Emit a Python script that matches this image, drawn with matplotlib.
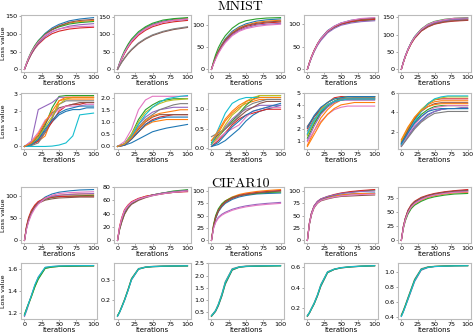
import matplotlib.pyplot as plt

# sample points along the iteration axis
iters_smooth = [0, 3, 6, 10, 15, 20, 30, 40, 50, 65, 80, 100]
iters_noisy = [0, 10, 20, 30, 40, 50, 60, 70, 80, 90, 100]

# MNIST, first row of runs
mnist_a1 = [
    [0, 16, 31, 48, 65, 80, 101, 116, 126, 136, 141, 145],
    [0, 16, 30, 46, 63, 77, 98, 112, 121, 130, 134, 137],
    [0, 18, 33, 50, 67, 80, 99, 111, 119, 127, 131, 134],
    [0, 15, 28, 43, 58, 70, 88, 100, 107, 113, 116, 118],
    [0, 15, 28, 43, 59, 72, 92, 105, 113, 121, 125, 128],
    [0, 14, 28, 44, 61, 75, 97, 112, 122, 132, 137, 140],
    [0, 17, 32, 48, 64, 77, 96, 107, 113, 118, 120, 121],
]
mnist_a2 = [
    [0, 17, 32, 49, 67, 82, 103, 118, 128, 137, 142, 145],
    [0, 16, 30, 47, 64, 79, 101, 116, 126, 135, 140, 144],
    [0, 19, 35, 53, 71, 86, 107, 121, 131, 140, 144, 147],
    [0, 15, 29, 45, 62, 76, 97, 111, 121, 130, 135, 139],
    [0, 16, 31, 48, 65, 80, 101, 115, 125, 134, 139, 142],
    [0, 10, 20, 31, 44, 55, 73, 86, 96, 106, 113, 119],
    [0, 16, 31, 48, 65, 80, 101, 115, 125, 134, 139, 143],
    [0, 11, 21, 33, 46, 57, 75, 88, 98, 108, 115, 121],
]
mnist_a3 = [
    [0, 15, 27, 42, 57, 69, 86, 96, 103, 109, 112, 114],
    [0, 14, 27, 41, 55, 67, 83, 94, 100, 106, 109, 111],
    [0, 18, 33, 49, 64, 76, 93, 104, 110, 114, 116, 117],
    [0, 14, 26, 39, 53, 64, 80, 90, 97, 102, 105, 107],
    [0, 13, 25, 38, 52, 63, 78, 88, 94, 100, 102, 104],
    [0, 14, 26, 40, 54, 66, 82, 92, 99, 104, 107, 109],
    [0, 12, 23, 36, 49, 60, 76, 86, 92, 97, 100, 102],
]
mnist_a4 = [
    [0, 15, 27, 42, 57, 69, 86, 96, 103, 109, 112, 114],
    [0, 14, 27, 41, 56, 67, 84, 95, 101, 107, 110, 112],
    [0, 14, 26, 40, 55, 66, 83, 93, 100, 105, 108, 110],
    [0, 15, 28, 42, 56, 68, 84, 94, 100, 106, 109, 111],
    [0, 13, 25, 39, 53, 64, 81, 91, 98, 103, 106, 108],
    [0, 14, 27, 41, 56, 68, 85, 95, 102, 108, 111, 113],
    [0, 14, 27, 41, 56, 68, 85, 96, 103, 109, 113, 115],
]
mnist_a5 = [
    [0, 21, 38, 58, 78, 94, 115, 128, 136, 142, 145, 147],
    [0, 20, 38, 57, 77, 92, 113, 125, 133, 139, 142, 144],
    [0, 20, 37, 57, 78, 94, 116, 130, 138, 144, 147, 149],
    [0, 19, 36, 55, 74, 89, 110, 122, 130, 136, 139, 141],
    [0, 21, 39, 58, 77, 92, 113, 126, 134, 140, 143, 145],
    [0, 20, 37, 56, 75, 90, 111, 123, 131, 137, 140, 142],
    [0, 19, 37, 57, 77, 93, 115, 129, 137, 143, 147, 148],
]

# MNIST, second row of runs (noisy)
mnist_b1 = [
    [0, 0.1, 0.4, 0.9, 1.4, 1.8, 2.0, 2.1, 2.1, 2.2, 2.2],
    [0, 0.1, 0.3, 0.6, 1.6, 2.6, 2.7, 2.7, 2.7, 2.7, 2.7],
    [0, 0.2, 0.5, 1.2, 2.2, 2.85, 2.9, 2.9, 2.9, 2.9, 2.9],
    [0, 0.1, 0.3, 0.8, 1.4, 2.0, 2.3, 2.4, 2.4, 2.5, 2.5],
    [0, 0.3, 2.1, 2.3, 2.5, 2.8, 2.8, 2.8, 2.8, 2.8, 2.8],
    [0, 0.2, 0.6, 1.3, 1.9, 2.2, 2.3, 2.4, 2.5, 2.5, 2.5],
    [0, 0.3, 0.8, 1.5, 1.8, 2.1, 2.3, 2.3, 2.3, 2.4, 2.4],
    [0, 0.05, 0.2, 0.8, 1.6, 2.4, 2.6, 2.6, 2.6, 2.6, 2.6],
    [0, 0.1, 0.5, 1.1, 1.7, 2.4, 2.7, 2.8, 2.8, 2.8, 2.8],
    [0, 0, 0, 0, 0.02, 0.08, 0.2, 0.6, 1.8, 1.85, 1.9],
    [0, 0.1, 0.4, 1.0, 1.5, 1.9, 2.1, 2.2, 2.3, 2.3, 2.3],
    [0, 0.2, 0.7, 1.4, 2.0, 2.6, 2.8, 2.8, 2.8, 2.8, 2.8],
]
mnist_b2 = [
    [0, 0.05, 0.15, 0.3, 0.45, 0.6, 0.68, 0.75, 0.8, 0.85, 0.9],
    [0, 0.05, 0.3, 0.6, 0.85, 1.0, 1.05, 1.1, 1.1, 1.1, 1.1],
    [0, 0.1, 0.5, 1.1, 1.5, 1.7, 1.85, 1.9, 1.95, 1.95, 1.95],
    [0, 0.05, 0.3, 0.6, 0.9, 1.1, 1.2, 1.25, 1.3, 1.3, 1.3],
    [0, 0.1, 0.45, 0.9, 1.2, 1.4, 1.5, 1.55, 1.6, 1.6, 1.6],
    [0, 0.1, 0.35, 0.7, 1.0, 1.2, 1.3, 1.3, 1.3, 1.3, 1.3],
    [0, 0.2, 0.7, 1.5, 1.9, 2.05, 2.05, 2.05, 2.05, 2.05, 2.05],
    [0, 0.1, 0.4, 0.8, 1.1, 1.3, 1.5, 1.6, 1.7, 1.75, 1.75],
    [0, 0.1, 0.5, 1.0, 1.4, 1.6, 1.75, 1.85, 1.9, 1.92, 1.95],
    [0, 0.1, 0.4, 0.9, 1.3, 1.6, 1.8, 1.95, 2.0, 2.05, 2.08],
    [0, 0.05, 0.3, 0.6, 0.9, 1.05, 1.15, 1.2, 1.2, 1.2, 1.2],
    [0, 0.1, 0.35, 0.75, 1.05, 1.25, 1.35, 1.4, 1.45, 1.5, 1.5],
]
mnist_b3 = [
    [0.05, 0.1, 0.2, 0.35, 0.5, 0.7, 0.85, 0.95, 1.0, 1.05, 1.1],
    [0.1, 0.4, 0.7, 0.9, 1.05, 1.15, 1.2, 1.25, 1.25, 1.25, 1.25],
    [0.15, 0.3, 0.5, 0.7, 0.9, 1.1, 1.25, 1.35, 1.35, 1.35, 1.35],
    [0.05, 0.2, 0.4, 0.6, 0.75, 0.85, 0.9, 0.95, 1.0, 1.0, 1.0],
    [0.1, 0.3, 0.55, 0.75, 0.9, 1.0, 1.05, 1.1, 1.1, 1.1, 1.1],
    [0.2, 0.35, 0.5, 0.65, 0.8, 0.95, 1.05, 1.15, 1.2, 1.2, 1.2],
    [0.1, 0.25, 0.4, 0.5, 0.6, 0.8, 0.95, 1.0, 1.05, 1.05, 1.05],
    [0.3, 0.4, 0.5, 0.65, 0.85, 1.05, 1.15, 1.2, 1.25, 1.25, 1.25],
    [0.1, 0.3, 0.6, 0.85, 1.0, 1.2, 1.3, 1.35, 1.35, 1.35, 1.35],
    [0.1, 0.5, 0.9, 1.15, 1.25, 1.3, 1.3, 1.3, 1.3, 1.3, 1.3],
    [0.05, 0.15, 0.35, 0.55, 0.7, 0.85, 0.95, 1.0, 1.05, 1.1, 1.15],
    [0.2, 0.45, 0.75, 0.95, 1.1, 1.2, 1.25, 1.3, 1.3, 1.3, 1.3],
]
mnist_b4 = [
    [1.5, 2.5, 3.4, 4.0, 4.3, 4.5, 4.5, 4.5, 4.5, 4.5, 4.5],
    [0.6, 1.8, 2.9, 3.6, 4.1, 4.4, 4.5, 4.6, 4.6, 4.6, 4.6],
    [1.2, 2.4, 3.3, 3.9, 4.3, 4.6, 4.7, 4.7, 4.7, 4.7, 4.7],
    [2.0, 3.0, 3.7, 4.2, 4.6, 4.7, 4.7, 4.7, 4.7, 4.7, 4.7],
    [1.0, 2.2, 3.2, 3.8, 4.2, 4.4, 4.4, 4.4, 4.4, 4.4, 4.4],
    [2.2, 3.0, 3.6, 4.0, 4.3, 4.4, 4.5, 4.5, 4.5, 4.5, 4.5],
    [0.9, 1.8, 2.6, 3.2, 3.6, 3.8, 3.9, 3.9, 3.9, 3.9, 3.9],
    [1.8, 2.8, 3.5, 4.0, 4.3, 4.5, 4.6, 4.6, 4.6, 4.6, 4.6],
    [1.4, 2.6, 3.6, 4.2, 4.5, 4.6, 4.7, 4.7, 4.7, 4.7, 4.7],
    [1.6, 2.7, 3.5, 4.0, 4.3, 4.4, 4.5, 4.5, 4.5, 4.5, 4.5],
    [2.1, 3.1, 3.8, 4.2, 4.5, 4.6, 4.7, 4.7, 4.7, 4.7, 4.7],
    [0.5, 1.5, 2.5, 3.2, 3.7, 4.0, 4.1, 4.2, 4.2, 4.2, 4.2],
]
mnist_b5 = [
    [0.6, 1.6, 2.5, 3.2, 3.8, 4.1, 4.3, 4.4, 4.4, 4.4, 4.4],
    [1.0, 2.3, 3.4, 4.2, 4.8, 5.1, 5.2, 5.2, 5.2, 5.2, 5.2],
    [0.8, 2.0, 3.0, 3.8, 4.3, 4.6, 4.7, 4.7, 4.7, 4.7, 4.7],
    [0.7, 2.1, 3.3, 4.2, 4.9, 5.3, 5.4, 5.4, 5.4, 5.4, 5.4],
    [0.5, 1.5, 2.4, 3.1, 3.7, 4.1, 4.3, 4.4, 4.4, 4.5, 4.5],
    [0.9, 2.2, 3.3, 4.1, 4.6, 4.9, 5.0, 5.0, 5.0, 5.0, 5.0],
    [0.6, 1.7, 2.7, 3.5, 4.1, 4.5, 4.6, 4.7, 4.7, 4.7, 4.7],
    [0.5, 1.4, 2.3, 3.0, 3.5, 3.9, 4.0, 4.1, 4.1, 4.1, 4.1],
    [1.1, 2.4, 3.5, 4.3, 4.9, 5.3, 5.5, 5.6, 5.6, 5.6, 5.6],
    [0.7, 1.9, 3.1, 4.1, 4.9, 5.4, 5.6, 5.7, 5.7, 5.7, 5.7],
    [0.8, 1.9, 2.9, 3.6, 4.1, 4.3, 4.4, 4.4, 4.4, 4.4, 4.4],
    [1.2, 2.5, 3.5, 4.2, 4.6, 4.8, 4.9, 4.9, 4.9, 4.9, 4.9],
]

# CIFAR10, first row of runs
cifar_a1 = [
    [0, 28, 45, 62, 76, 86, 98, 105, 109, 112, 114, 115],
    [0, 30, 48, 65, 78, 87, 96, 100, 102, 104, 105, 105],
    [0, 29, 47, 63, 76, 85, 93, 97, 99, 100, 101, 102],
    [0, 33, 52, 68, 80, 88, 95, 98, 99, 100, 100, 100],
    [0, 27, 45, 62, 75, 85, 95, 100, 102, 104, 105, 106],
    [0, 30, 48, 64, 76, 84, 91, 94, 96, 97, 98, 98],
    [0, 25, 42, 58, 72, 82, 95, 102, 106, 108, 109, 110],
]
cifar_a2 = [
    [0, 18, 30, 42, 51, 56, 62, 65, 68, 71, 73, 75],
    [0, 20, 32, 44, 52, 57, 62, 66, 68, 71, 73, 74],
    [0, 17, 28, 40, 49, 55, 61, 65, 68, 71, 74, 76],
    [0, 21, 34, 46, 53, 58, 63, 66, 68, 70, 72, 73],
    [0, 19, 31, 43, 51, 56, 62, 65, 68, 71, 73, 75],
    [0, 16, 27, 39, 48, 54, 60, 64, 67, 70, 72, 74],
    [0, 20, 33, 45, 52, 57, 62, 65, 67, 70, 72, 74],
]
cifar_a3 = [
    [0, 27, 44, 58, 68, 75, 83, 88, 91, 94, 95, 96],
    [0, 30, 48, 62, 73, 80, 88, 93, 96, 99, 101, 103],
    [0, 32, 50, 64, 74, 80, 87, 91, 93, 95, 97, 98],
    [0, 28, 46, 60, 71, 78, 86, 91, 94, 97, 99, 101],
    [0, 25, 38, 47, 53, 57, 63, 67, 70, 73, 75, 77],
    [0, 29, 46, 60, 70, 77, 85, 90, 93, 96, 98, 100],
    [0, 24, 36, 45, 51, 55, 61, 65, 68, 71, 73, 75],
]
cifar_a4 = [
    [0, 33, 53, 68, 77, 82, 87, 90, 92, 94, 95, 96],
    [0, 34, 54, 69, 78, 83, 87, 90, 92, 94, 95, 95],
    [0, 34, 54, 69, 78, 83, 88, 92, 95, 98, 100, 102],
    [0, 35, 55, 70, 79, 84, 89, 93, 96, 99, 101, 103],
    [0, 35, 55, 70, 79, 84, 89, 92, 95, 97, 99, 100],
    [0, 32, 51, 66, 75, 80, 84, 87, 89, 90, 91, 92],
    [0, 33, 52, 67, 76, 81, 85, 88, 90, 92, 93, 94],
]
cifar_a5 = [
    [0, 24, 39, 52, 62, 68, 75, 80, 83, 86, 88, 90],
    [0, 22, 36, 49, 59, 65, 72, 77, 80, 83, 85, 86],
    [0, 21, 35, 47, 57, 63, 70, 75, 78, 81, 83, 84],
    [0, 25, 40, 54, 64, 70, 77, 81, 84, 87, 89, 91],
    [0, 23, 38, 51, 61, 67, 74, 79, 82, 85, 87, 88],
    [0, 24, 39, 53, 63, 69, 76, 80, 83, 86, 88, 89],
    [0, 22, 37, 50, 60, 66, 73, 78, 81, 84, 86, 87],
]

# CIFAR10, second row of runs
cifar_b1 = [
    [1.18, 1.23, 1.28, 1.35, 1.44, 1.52, 1.615, 1.625, 1.630, 1.632, 1.633, 1.634],
    [1.17, 1.22, 1.28, 1.36, 1.45, 1.53, 1.618, 1.627, 1.631, 1.633, 1.634, 1.635],
    [1.18, 1.24, 1.29, 1.36, 1.45, 1.52, 1.612, 1.623, 1.628, 1.631, 1.632, 1.633],
    [1.19, 1.24, 1.29, 1.35, 1.44, 1.51, 1.610, 1.622, 1.628, 1.630, 1.632, 1.633],
    [1.18, 1.23, 1.29, 1.36, 1.46, 1.53, 1.620, 1.628, 1.632, 1.634, 1.635, 1.636],
]
cifar_b2 = [
    [0.120, 0.140, 0.165, 0.200, 0.250, 0.305, 0.358, 0.367, 0.370, 0.372, 0.373, 0.374],
    [0.118, 0.138, 0.163, 0.198, 0.248, 0.302, 0.356, 0.366, 0.369, 0.371, 0.372, 0.373],
    [0.122, 0.142, 0.168, 0.204, 0.255, 0.310, 0.360, 0.368, 0.371, 0.373, 0.374, 0.375],
    [0.121, 0.141, 0.166, 0.201, 0.252, 0.307, 0.357, 0.366, 0.369, 0.371, 0.372, 0.373],
    [0.119, 0.139, 0.164, 0.199, 0.249, 0.304, 0.358, 0.367, 0.370, 0.372, 0.373, 0.374],
]
cifar_b3 = [
    [0.35, 0.45, 0.56, 0.80, 1.20, 1.70, 2.25, 2.35, 2.38, 2.39, 2.40, 2.40],
    [0.33, 0.43, 0.53, 0.76, 1.15, 1.64, 2.22, 2.34, 2.37, 2.39, 2.40, 2.41],
    [0.37, 0.47, 0.58, 0.84, 1.25, 1.75, 2.28, 2.36, 2.39, 2.40, 2.40, 2.41],
    [0.34, 0.44, 0.55, 0.78, 1.17, 1.66, 2.23, 2.34, 2.37, 2.38, 2.39, 2.40],
    [0.36, 0.46, 0.57, 0.82, 1.22, 1.72, 2.26, 2.35, 2.38, 2.39, 2.40, 2.40],
]
cifar_b4 = [
    [0.120, 0.150, 0.190, 0.240, 0.320, 0.420, 0.550, 0.580, 0.595, 0.605, 0.610, 0.615],
    [0.115, 0.145, 0.185, 0.235, 0.315, 0.410, 0.545, 0.578, 0.593, 0.603, 0.609, 0.614],
    [0.125, 0.155, 0.195, 0.248, 0.330, 0.430, 0.556, 0.583, 0.597, 0.607, 0.612, 0.617],
    [0.118, 0.148, 0.188, 0.238, 0.318, 0.415, 0.548, 0.579, 0.594, 0.604, 0.610, 0.615],
    [0.122, 0.152, 0.192, 0.244, 0.325, 0.425, 0.553, 0.581, 0.596, 0.606, 0.611, 0.616],
]
cifar_b5 = [
    [0.42, 0.48, 0.55, 0.64, 0.76, 0.88, 1.03, 1.060, 1.070, 1.075, 1.080, 1.080],
    [0.41, 0.47, 0.54, 0.63, 0.75, 0.87, 1.02, 1.055, 1.068, 1.074, 1.078, 1.080],
    [0.43, 0.49, 0.56, 0.66, 0.78, 0.90, 1.04, 1.065, 1.072, 1.077, 1.081, 1.082],
    [0.42, 0.48, 0.55, 0.65, 0.77, 0.89, 1.03, 1.060, 1.070, 1.075, 1.079, 1.081],
    [0.41, 0.47, 0.54, 0.64, 0.76, 0.88, 1.03, 1.058, 1.069, 1.074, 1.078, 1.080],
]

yticks_mnist_a = [[0, 50, 100, 150], [0, 50, 100, 150], [0, 50, 100], [0, 50, 100], [0, 50, 100, 150]]
yticks_mnist_b = [[0, 1, 2, 3], [0.0, 0.5, 1.0, 1.5, 2.0], [0.0, 0.5, 1.0], [1, 2, 3, 4, 5], [2, 4, 6]]
yticks_cifar_a = [[0, 50, 100], [0, 20, 40, 60, 80], [0, 25, 50, 75, 100], [0, 25, 50, 75, 100], [0, 25, 50, 75]]
yticks_cifar_b = [[1.2, 1.4, 1.6], [0.2, 0.3], [0.5, 1.0, 1.5, 2.0, 2.5], [0.2, 0.4, 0.6], [0.4, 0.6, 0.8, 1.0]]

W, H = 474, 334
fig = plt.figure(figsize=(W / 100, H / 100), dpi=100)

# panel edges in pixels
col_px = [(21, 97), (114, 191), (208, 284), (304, 378), (398, 471)]
row_px = [(15, 72), (93, 149), (187, 243), (263, 319)]

rows = [
    (iters_smooth, [mnist_a1, mnist_a2, mnist_a3, mnist_a4, mnist_a5], yticks_mnist_a),
    (iters_noisy, [mnist_b1, mnist_b2, mnist_b3, mnist_b4, mnist_b5], yticks_mnist_b),
    (iters_smooth, [cifar_a1, cifar_a2, cifar_a3, cifar_a4, cifar_a5], yticks_cifar_a),
    (iters_smooth, [cifar_b1, cifar_b2, cifar_b3, cifar_b4, cifar_b5], yticks_cifar_b),
]

for r, (xs, panels, ticks) in enumerate(rows):
    top, bottom = row_px[r]
    for c, (runs, yt) in enumerate(zip(panels, ticks)):
        left, right = col_px[c]
        ax = fig.add_axes([left / W, 1 - bottom / H, (right - left) / W, (bottom - top) / H])
        if r == 3:
            ax.set_prop_cycle(color=['tab:olive', 'tab:purple', 'tab:gray', 'tab:green', 'tab:cyan'])
        for run in runs:
            ax.plot(xs, run, lw=0.8)
        ax.set_xticks([0, 25, 50, 75, 100])
        ax.set_yticks(yt)
        ax.set_xlabel('Iterations', fontsize=5, labelpad=0.2)
        if c == 0:
            ax.set_ylabel('Loss value', fontsize=4.6)
            # label sits in the narrow strip left of the tick labels
            ax.yaxis.set_label_coords((6.5 - left) / (right - left), 0.5)
        ax.tick_params(labelsize=4.6, length=1.5, width=0.5, pad=0.8, color='#888888')
        for s in ax.spines.values():
            s.set_color('#bbbbbb')
            s.set_linewidth(0.8)

fig.text(240 / W, 1 - 7 / H, 'MNIST', ha='center', va='center', fontsize=10, family='cmr10')
fig.text(240 / W, 1 - 184 / H, 'CIFAR10', ha='center', va='center', fontsize=10, family='cmr10')

fig.savefig('out.png', dpi=100)
